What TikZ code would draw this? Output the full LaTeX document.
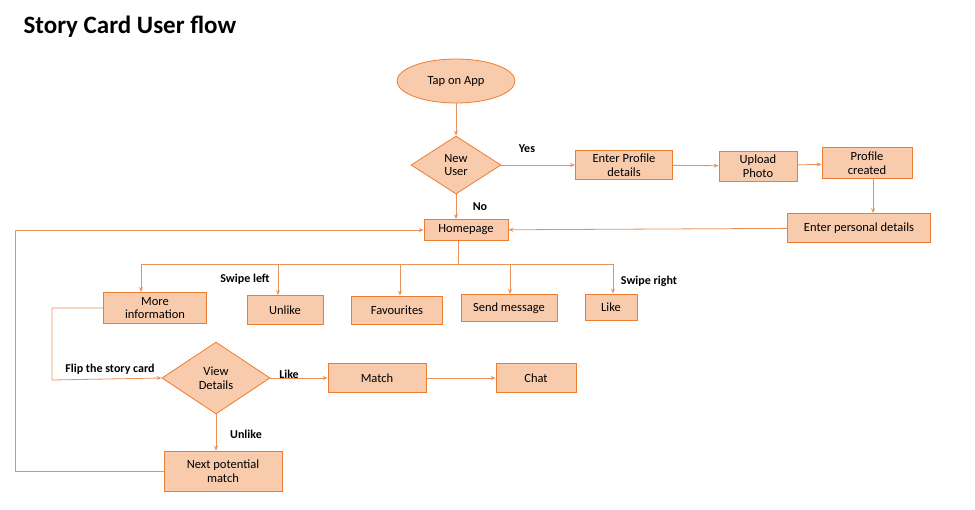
\documentclass[tikz,border=0pt]{standalone}
\usepackage{fontspec}
\setmainfont{Carlito}
\usetikzlibrary{shapes.geometric,arrows.meta}
\definecolor{fil}{HTML}{F8CBAD}
\definecolor{brd}{HTML}{ED7D31}
\definecolor{ln}{HTML}{E9915A}
\begin{document}
\begin{tikzpicture}[x=1pt,y=-1pt,
 box/.style={draw=brd,fill=fil,line width=0.8pt,inner sep=0pt,align=center,font=\fontsize{12.5}{13.5}\selectfont},
 arr/.style={draw=ln,line width=0.8pt,-{Stealth[length=5pt,width=4pt]}},
 lbl/.style={font=\bfseries\fontsize{12}{14}\selectfont}]
\useasboundingbox (0,0) rectangle (975,509);
\fill[white] (0,0) rectangle (975,509);
\node[font=\bfseries\fontsize{25}{28}\selectfont,anchor=west] (title) at (20,27) {Story Card User flow};
\node[box,ellipse,minimum width=118,minimum height=44] (tap) at (456,81) {Tap on App};
\node[box,diamond,minimum width=90,minimum height=58,aspect=1.55,inner sep=-2pt] (new) at (456,165) {New\\User};
\node[box,minimum width=97,minimum height=29] (epd) at (624,165) {Enter Profile\\details};
\node[box,minimum width=78,minimum height=30] (up) at (758,166) {Upload\\Photo};
\node[box,minimum width=90,minimum height=31] (pc) at (867,163) {Profile\\created};
\node[box,minimum width=143,minimum height=29] (epers) at (859,228) {Enter personal details};
\node[box,minimum width=84,minimum height=21] (home) at (466,230) {Homepage};
\node[box,minimum width=103,minimum height=31] (more) at (155,308) {More\\information};
\node[box,minimum width=76,minimum height=29] (unl) at (285,310) {Unlike};
\node[box,minimum width=91,minimum height=28] (fav) at (397,310) {Favourites};
\node[box,minimum width=96,minimum height=27] (msg) at (509,308) {Send message};
\node[box,minimum width=52,minimum height=26] (like) at (611,307) {Like};
\node[box,diamond,minimum width=108,minimum height=72,aspect=1.5,inner sep=-2pt] (view) at (216,378) {View\\Details};
\node[box,minimum width=98,minimum height=29] (match) at (377,378) {Match};
\node[box,minimum width=80,minimum height=29] (chat) at (536,378) {Chat};
\node[box,minimum width=118,minimum height=40] (next) at (223,471) {Next potential\\match};
\coordinate (br) at (458,264);
\draw[arr] (tap) -- (new);
\draw[arr] (new) -- (epd);
\draw[arr] (epd) -- (up);
\draw[arr] (up) -- (pc);
\draw[arr] (pc.south -| 873,0) -- (epers.north -| 873,0);
\draw[arr] (epers) -- (home);
\draw[arr] (new) -- (home.north -| new);
\draw[draw=ln,line width=0.8pt] (home.south -| br) -- (br) (141,264) -- (613,264);
\draw[arr] (141,264) -- (more.north -| 141,0);
\draw[arr] (278,264) -- (unl.north -| 278,0);
\draw[arr] (400,264) -- (fav.north -| 400,0);
\draw[arr] (510,264) -- (msg.north -| 510,0);
\draw[arr] (613,264) -- (like.north -| 613,0);
\draw[arr] (more.west) -- (52,308) -- (52,380) -- (view.west);
\draw[arr] (view) -- (match);
\draw[arr] (match) -- (chat);
\draw[arr] (view.south) -- (next.north -| view.south);
\draw[arr] (next.west) -- (15,471) -- (15,230) -- (home.west);
\node[lbl] (yes) at (527,149) {Yes};
\node[lbl] (no) at (480,207) {No};
\node[lbl] (sl) at (245,279) {Swipe left};
\node[lbl] (sr) at (649,281) {Swipe right};
\node[lbl] (flip) at (110,369) {Flip the story card};
\node[lbl] (lk) at (289,374) {Like};
\node[lbl] (ul) at (246,434) {Unlike};
\end{tikzpicture}
\end{document}
